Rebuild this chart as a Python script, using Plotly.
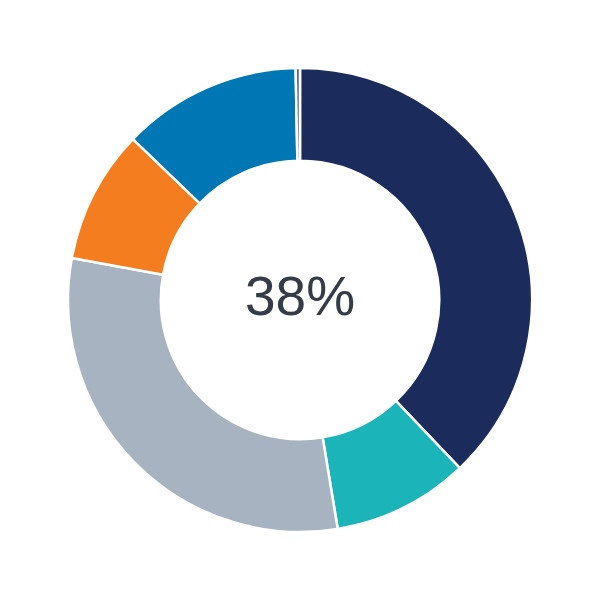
import plotly.graph_objects as go

# segment shares, clockwise from 12 o'clock
labels = ["A", "B", "C", "D", "E", "F"]
values = [37.9, 9.5, 30.5, 9.3, 12.5, 0.3]
colors = ["#1b2b5c", "#1bb4b8", "#a8b3c1", "#f47d20", "#0077b5", "#5b6470"]
center_text = "38%"

fig = go.Figure(go.Pie(
    labels=labels,
    values=values,
    hole=0.6,
    sort=False,
    direction="clockwise",
    rotation=0,
    textinfo="none",
    hoverinfo="label+percent",
    marker=dict(colors=colors, line=dict(color="white", width=2.5)),
    showlegend=False,
))

fig.add_annotation(
    text=center_text, x=0.5, y=0.5, xref="paper", yref="paper", yshift=4,
    showarrow=False, font=dict(family="Liberation Sans, Arial", size=55, color="#333c47"),
)

# page body adds ~8px offset, so shift the domain up/left
fig.update_layout(
    width=600, height=600,
    margin=dict(l=60, r=76, t=60, b=76),
    paper_bgcolor="white",
    plot_bgcolor="white",
)

fig.write_html("out.html")
